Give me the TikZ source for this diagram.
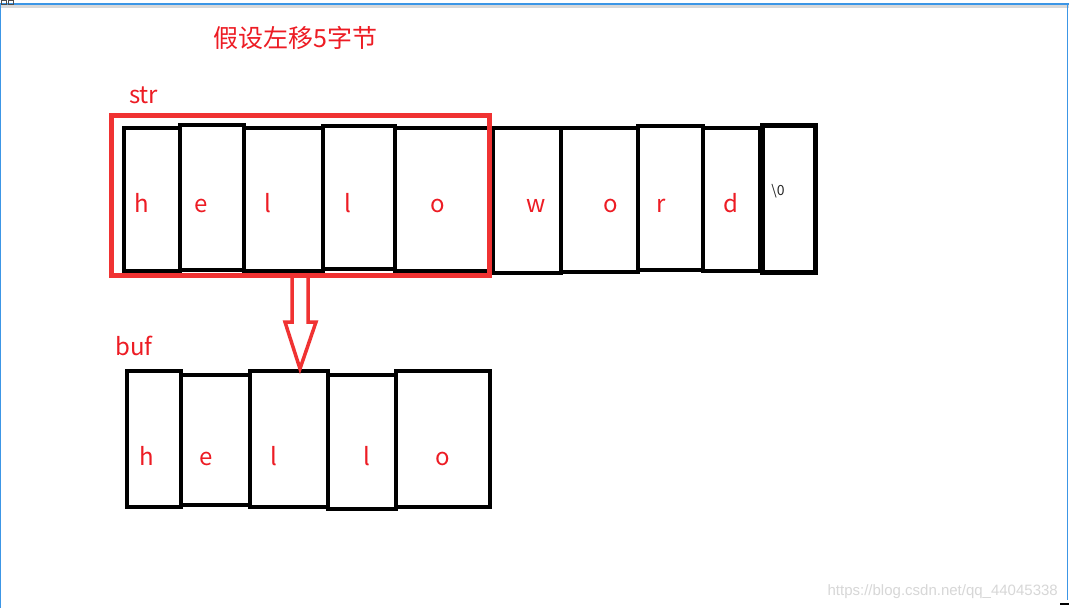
\documentclass[tikz,border=0pt]{standalone}
\usepackage{fontspec}
\setmainfont{Noto Sans CJK SC}
\newfontfamily\latinf{Liberation Sans}
\definecolor{txtred}{RGB}{237,28,36}
\definecolor{boxred}{RGB}{240,50,50}
\definecolor{winblue}{RGB}{60,150,230}
\definecolor{wmgray}{RGB}{215,215,215}
\tikzset{
  cell/.style={draw=black, line width=4.5pt, inner sep=0pt},
  letter/.style={text=txtred, inner sep=0pt, anchor=base, font=\fontsize{24}{24}\selectfont},
  lab/.style={text=txtred, inner sep=0pt, anchor=west, font=\fontsize{24}{24}\selectfont},
  redbox/.style={draw=boxred, line width=5pt, inner sep=0pt},
}
\newcommand{\cellbox}[5]{% name, x1, y1, x2, y2
  \node[cell, minimum width={#4-#2}, minimum height={#5-#3}] (#1) at ({(#2+#4)/2},{(#3+#5)/2}) {};}
\begin{document}
\begin{tikzpicture}[x=1pt,y=-1pt]
\useasboundingbox (0,0) rectangle (1069,608);
\fill[white] (0,0) rectangle (1069,608);
% window frame
\fill[black!15] (0,5) rectangle (1069,8);
\draw[winblue, line width=1.5pt] (0,4) -- (1069,4);
\draw[winblue, line width=1pt] (0.5,4) -- (0.5,608);
\draw[winblue, line width=1pt] (1067.5,4) -- (1067.5,600);
\draw[black, line width=1.5pt] (1060,604) -- (1069,604);
\draw[black!70, line width=0.6pt] (1,0) rectangle (6,4.5) (8,0) rectangle (13,4.5);
% title
\node[text=txtred, inner sep=0pt, anchor=west, font=\fontsize{25}{25}\selectfont] (title) at (213,38) {假设左移5字节};
\node[lab] (strl) at (129,95) {str};
\node[lab] (bufl) at (115,346) {buf};
% str row
\cellbox{s1}{124}{128}{180}{271}
\cellbox{s3}{244}{128}{323}{271}
\cellbox{s5}{395}{128}{493}{271}
\cellbox{s6}{493}{128}{561}{273}
\cellbox{s7}{561}{128}{638}{272}
\cellbox{s9}{703}{128}{760}{271}
\cellbox{s2}{180}{125}{244}{270}
\cellbox{s4}{323}{126}{395}{269}
\cellbox{s8}{638}{126}{703}{270}
\node[cell, line width=5pt, minimum width=53pt, minimum height=147pt] (s10) at (789,199) {};
\node[letter] (c1) at (142,212) {h};
\node[letter] (c2) at (201,212) {e};
\node[letter] (c3) at (268,212) {l};
\node[letter] (c4) at (348,212) {l};
\node[letter] (c5) at (438,212) {o};
\node[letter] (c6) at (536,212) {w};
\node[letter] (c7) at (611,212) {o};
\node[letter] (c8) at (661,212) {r};
\node[letter] (c9) at (731,212) {d};
\node[inner sep=0pt, text=black!85, font=\fontsize{14}{14}\selectfont] (c10) at (778,191) {\textbackslash 0};
% red selection box
\node[redbox, minimum width=378pt, minimum height=160pt] (sel) at (300,195) {};
% buf row
\cellbox{b1}{127}{371}{181}{507}
\cellbox{b3}{250}{371}{328}{507}
\cellbox{b5}{396}{371}{490}{507}
\cellbox{b2}{181}{375}{250}{505}
\cellbox{b4}{328}{375}{396}{509}
\node[letter] (d1) at (147,465) {h};
\node[letter] (d2) at (206,465) {e};
\node[letter] (d3) at (274,465) {l};
\node[letter] (d4) at (367,465) {l};
\node[letter] (d5) at (443,465) {o};
% hollow arrow
\coordinate (ax) at (300,0);
\coordinate (atail) at (sel.south -| ax);
\coordinate (atip) at (b3.north -| ax);
\draw[boxred, line width=3.5pt, line join=miter]
  ([xshift=-8pt]atail) -- (292,322) -- (285,322) -- (atip) -- (316,322) -- (308,322) -- ([xshift=8pt]atail);
% watermark
\node[text=wmgray, inner sep=0pt, anchor=east, font=\latinf\fontsize{15}{15}\selectfont] (wm) at (1058,592) {https://blog.csdn.net/qq\_44045338};
\end{tikzpicture}
\end{document}
